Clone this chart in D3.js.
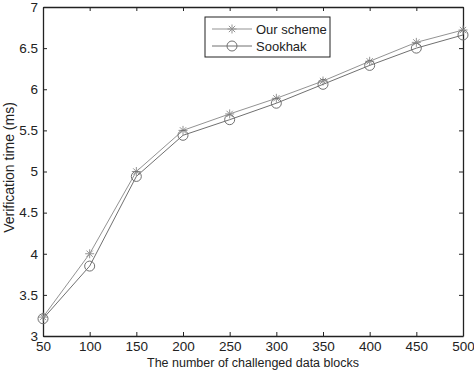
<!DOCTYPE html>
<html>
<head>
<meta charset="utf-8">
<script src="https://cdn.jsdelivr.net/npm/d3@7"></script>
<style>
  body { margin: 0; background: #fff; }
  svg { font-family: "Liberation Sans", Arial, sans-serif; }
</style>
</head>
<body>
<div id="chart"></div>
<script>
// data
const blocks = [50, 100, 150, 200, 250, 300, 350, 400, 450, 500];
const ourScheme = [3.23, 4.0, 5.0, 5.5, 5.7, 5.89, 6.1, 6.34, 6.57, 6.72];
const sookhak = [3.21, 3.85, 4.94, 5.44, 5.63, 5.83, 6.06, 6.29, 6.5, 6.66];
const xTicks = [50, 100, 150, 200, 250, 300, 350, 400, 450, 500];
const yTicks = [3, 3.5, 4, 4.5, 5, 5.5, 6, 6.5, 7];

const W = 474, H = 388;
const margin = { top: 7, right: 11, bottom: 52, left: 43 };
const width = W - margin.left - margin.right;
const height = H - margin.top - margin.bottom;

const svg = d3.select('#chart').append('svg')
  .attr('width', W).attr('height', H);
const g = svg.append('g')
  .attr('transform', `translate(${margin.left},${margin.top})`);

const x = d3.scaleLinear().domain([50, 500]).range([0, width]);
const y = d3.scaleLinear().domain([3, 7]).range([height, 0]);

// box + inward ticks on all sides
const fmtY = d => d3.format('~g')(d);
const axes = [
  g.append('g').attr('transform', `translate(0,${height})`)
    .call(d3.axisBottom(x).tickValues(xTicks).tickSizeInner(-4).tickSizeOuter(0).tickPadding(5)),
  g.append('g')
    .call(d3.axisLeft(y).tickValues(yTicks).tickFormat(fmtY).tickSizeInner(-4).tickSizeOuter(0).tickPadding(5)),
  g.append('g')
    .call(d3.axisTop(x).tickValues(xTicks).tickSizeInner(-4).tickSizeOuter(0).tickFormat('')),
  g.append('g').attr('transform', `translate(${width},0)`)
    .call(d3.axisRight(y).tickValues(yTicks).tickSizeInner(-4).tickSizeOuter(0).tickFormat(''))
];
axes.forEach(a => {
  a.select('.domain').attr('stroke', '#222').attr('stroke-width', 1.3);
  a.selectAll('.tick line').attr('stroke', '#222');
  a.selectAll('text').attr('fill', '#222').style('font-size', '13.5px');
});

// labels
g.append('text')
  .attr('x', width / 2).attr('y', height + 31)
  .attr('text-anchor', 'middle')
  .attr('fill', '#222').style('font-size', '12.5px')
  .text('The number of challenged data blocks');

g.append('text')
  .attr('transform', 'rotate(-90)')
  .attr('x', -height / 2 + 4).attr('y', -29)
  .attr('text-anchor', 'middle')
  .attr('fill', '#222').style('font-size', '14px')
  .text('Verification time (ms)');

const line = d3.line().x((d, i) => x(blocks[i])).y(d => y(d));

const series = [
  { name: 'Our scheme', values: ourScheme, color: '#939393', marker: 'star' },
  { name: 'Sookhak', values: sookhak, color: '#707070', marker: 'circle' }
];

const drawMarker = (sel, type, cx, cy, color) => {
  if (type === 'circle') {
    sel.append('circle').attr('cx', cx).attr('cy', cy).attr('r', 5)
      .attr('fill', 'none').attr('stroke', color).attr('stroke-width', 1);
  } else {
    const r = 4.5;
    const p = d3.path();
    p.moveTo(cx - r, cy); p.lineTo(cx + r, cy);
    p.moveTo(cx, cy - r); p.lineTo(cx, cy + r);
    p.moveTo(cx - r * 0.7, cy - r * 0.7); p.lineTo(cx + r * 0.7, cy + r * 0.7);
    p.moveTo(cx - r * 0.7, cy + r * 0.7); p.lineTo(cx + r * 0.7, cy - r * 0.7);
    sel.append('path').attr('d', p.toString())
      .attr('stroke', color).attr('stroke-width', 1).attr('fill', 'none');
  }
};

series.forEach(s => {
  g.append('path').datum(s.values)
    .attr('fill', 'none').attr('stroke', s.color).attr('stroke-width', 1)
    .attr('d', line);
  const mg = g.append('g');
  s.values.forEach((v, i) => drawMarker(mg, s.marker, x(blocks[i]), y(v), s.color));
});

// legend
const leg = svg.append('g').attr('transform', 'translate(205,17)');
leg.append('rect').attr('width', 125).attr('height', 40)
  .attr('fill', '#fff').attr('stroke', '#222').attr('stroke-width', 1);
series.forEach((s, i) => {
  const ly = 12 + i * 17;
  leg.append('line').attr('x1', 7).attr('x2', 47).attr('y1', ly).attr('y2', ly)
    .attr('stroke', s.color).attr('stroke-width', 1);
  drawMarker(leg, s.marker, 27, ly, s.color);
  leg.append('text').attr('x', 51).attr('y', ly + 5)
    .attr('fill', '#222').style('font-size', '13px').text(s.name);
});
</script>
</body>
</html>
